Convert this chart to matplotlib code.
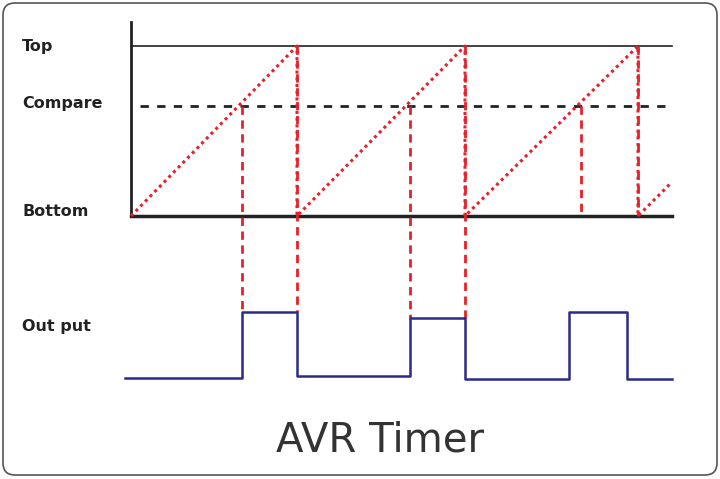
import matplotlib
matplotlib.use("Agg")
import matplotlib.pyplot as plt
from matplotlib.patches import FancyBboxPatch

# diagram data (in canvas units)
level_labels = ["Top", "Compare", "Bottom", "Out put"]
level_y = [46, 103, 212, 326]
top_y, compare_y, bottom_y = 46, 106, 216
saw_x = [131, 297, 297, 465, 465, 638, 638, 672]
saw_y = [216, 46, 216, 46, 216, 46, 216, 182]
vline_x = [242, 297, 410, 465, 581, 638]
vline_top = [106, 46, 106, 46, 106, 46]
vline_bot = [312, 312, 318, 318, 216, 216]
out_x = [125, 242, 242, 297, 297, 410, 410, 465, 465, 569, 569, 627, 627, 672]
out_y = [378, 378, 312, 312, 376, 376, 318, 318, 379, 379, 312, 312, 379, 379]
title = "AVR Timer"

fig = plt.figure(figsize=(7.2, 4.79), dpi=100)
ax = fig.add_axes([0, 0, 1, 1])
ax.set_xlim(0, 720)
ax.set_ylim(479, 0)
ax.axis("off")

ax.add_patch(FancyBboxPatch((3, 3), 714, 472, boxstyle="round,pad=0,rounding_size=12",
                            fc="white", ec="#555555", lw=1.2))

ax.plot([131, 131], [22, bottom_y], color="#222222", lw=2)
ax.plot([131, 672], [bottom_y, bottom_y], color="#222222", lw=2.5)
ax.plot([131, 672], [top_y, top_y], color="#222222", lw=1.2)
ax.plot([140, 672], [compare_y, compare_y], color="#222222", lw=2, ls=(0, (3, 3)))

ax.plot(saw_x, saw_y, color="#e8202a", lw=2.2, ls=(0, (1, 1.2)))
for x, t, b in zip(vline_x, vline_top, vline_bot):
    ax.plot([x, x], [t, b], color="#e8202a", lw=2, ls=(0, (3, 2)))

ax.plot(out_x, out_y, color="#2b2a8c", lw=1.8)

for lab, y in zip(level_labels, level_y):
    ax.text(22, y, lab, fontsize=11.5, fontweight="bold", color="#222222", va="center", ha="left")

ax.text(380, 440, title, fontsize=29, color="#333333", ha="center", va="center")

fig.savefig("out.png", dpi=100)
